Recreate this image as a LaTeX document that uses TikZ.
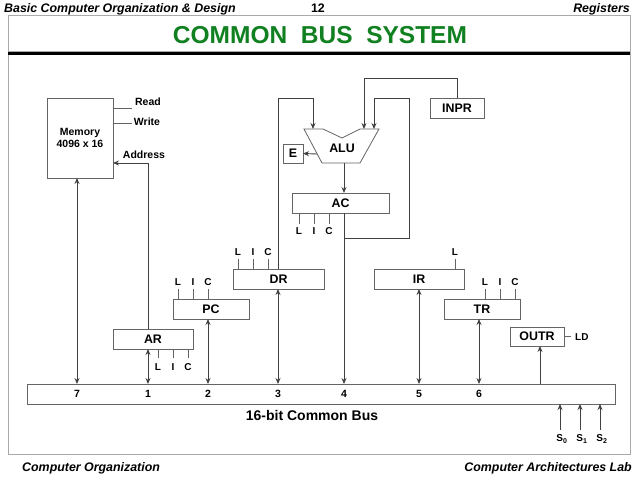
\documentclass[tikz,border=0pt]{standalone}
\usepackage{fontspec}
\setmainfont{Liberation Sans}
\usetikzlibrary{arrows.meta}
\definecolor{titlegreen}{RGB}{16,128,32}
\definecolor{linegray}{RGB}{100,100,100}
\definecolor{framegray}{RGB}{170,170,170}
\begin{document}
\begin{tikzpicture}[x=1pt,y=-1pt,
  box/.style={draw=linegray, line width=0.8pt, inner sep=0pt, outer sep=0pt, font=\fontsize{12.4}{14}\selectfont\bfseries},
  wire/.style={draw=black!75, line width=0.9pt},
  arr/.style={wire,-{Stealth[length=6pt,width=5pt]}},
  biarr/.style={wire,{Stealth[length=6pt,width=5pt]}-{Stealth[length=6pt,width=5pt]}},
  tickl/.style={draw=linegray, line width=0.8pt},
  lbl/.style={font=\fontsize{10}{12}\selectfont\bfseries, inner sep=0pt},
  mlbl/.style={font=\fontsize{10.5}{12.5}\selectfont\bfseries, inner sep=0pt},
  hdr/.style={font=\fontsize{12.4}{14}\selectfont\bfseries\itshape, inner sep=0pt},
]
\useasboundingbox (0,0) rectangle (638,478);

% frame and header
\draw[framegray, line width=1pt] (8,16) rectangle (630,455);
\draw[framegray, line width=1.2pt] (8,51.2) -- (630,51.2);
\draw[black, line width=2.2pt] (8,53.5) -- (630,53.5);
\node[hdr, anchor=base west] (h1) at (4,13) {Basic Computer Organization \& Design};
\node[font=\fontsize{12.4}{14}\selectfont\bfseries, inner sep=0pt, anchor=base] (h2) at (318,13) {12};
\node[hdr, anchor=base east] (h3) at (630,13) {Registers};
\node[font=\fontsize{24.5}{28}\selectfont\bfseries, text=titlegreen, inner sep=0pt] (title) at (320,35) {COMMON\ \ BUS\ \ SYSTEM};
\node[hdr, anchor=base west] (f1) at (22,472) {Computer Organization};
\node[hdr, anchor=base east] (f2) at (632,472) {Computer Architectures Lab};

% x positions of bus lines
\coordinate (c7) at (77,0);
\coordinate (c1) at (148,0);
\coordinate (c2) at (208,0);
\coordinate (c3) at (278,0);
\coordinate (c4) at (344,0);
\coordinate (c5) at (419,0);
\coordinate (c6) at (479,0);
\coordinate (cO) at (540,0);
\coordinate (cS0) at (560,0);
\coordinate (cS1) at (580,0);
\coordinate (cS2) at (600,0);

% boxes
\node[box, minimum width=66, minimum height=80, align=center, font=\fontsize{10.5}{12}\selectfont\bfseries] (mem) at (80,138) {Memory\\4096 x 16};
\node[box, minimum width=80, minimum height=20] (AR) at (153,339) {AR};
\node[box, minimum width=76, minimum height=20] (PC) at (211,309) {PC};
\node[box, minimum width=91, minimum height=20] (DR) at (278.5,279) {DR};
\node[box, minimum width=97, minimum height=20] (AC) at (340.5,203) {AC};
\node[box, minimum width=90, minimum height=20] (IR) at (419,279) {IR};
\node[box, minimum width=76, minimum height=20] (TR) at (482,309) {TR};
\node[box, minimum width=54, minimum height=19] (OUTR) at (537,336.5) {OUTR};
\node[box, minimum width=54, minimum height=20] (INPR) at (457,108) {INPR};
\node[box, minimum width=20, minimum height=19] (E) at (293,153.5) {E};
\node[box, minimum width=588, minimum height=20] (bus) at (321,394) {};

% ALU
\draw[linegray, line width=0.8pt] (304,129) -- (323,129) -- (342,138) -- (360,129) -- (379,129) -- (360,163) -- (322,163) -- cycle;
\node[font=\fontsize{12.4}{14}\selectfont\bfseries, inner sep=0pt] (ALU) at (342,148) {ALU};
\coordinate (aluL) at (313,129);
\coordinate (aluR1) at (364,129);
\coordinate (aluR2) at (374,129);
\coordinate (aluO) at (344,163);
\coordinate (aluE) at (317,154);
\coordinate (fb) at (409,98);

% bus numbers and label
\foreach \c/\t in {c7/7,c1/1,c2/2,c3/3,c4/4,c5/5,c6/6}
  \node[mlbl] at (\c |- bus) {\t};
\node[font=\fontsize{14}{16}\selectfont\bfseries, inner sep=0pt] (buslbl) at (312,415) {16-bit Common Bus};

% memory controls
\draw[tickl] (mem.east |- 0,108) -- ++(19,0);
\draw[tickl] (mem.east |- 0,123) -- ++(19,0);
\node[mlbl] (rd) at (148,102) {Read};
\node[mlbl] (wr) at (147,122) {Write};
\node[mlbl] (ad) at (144,155) {Address};

% bus connections
\draw[biarr] (mem.south -| c7) -- (bus.north -| c7);
\draw[biarr] (AR.south -| c1) -- (bus.north -| c1);
\draw[biarr] (PC.south -| c2) -- (bus.north -| c2);
\draw[biarr] (DR.south -| c3) -- (bus.north -| c3);
\draw[arr] (AC.south -| c4) -- (bus.north -| c4);
\draw[biarr] (IR.south -| c5) -- (bus.north -| c5);
\draw[biarr] (TR.south -| c6) -- (bus.north -| c6);
\draw[arr] (bus.north -| cO) -- (OUTR.south -| cO);
\draw[arr] (AR.north -| c1) |- (mem.east |- 0,163);

% ALU connections
\draw[arr] (DR.north -| c3) -- ++(0,-171) -| (aluL);
\draw[arr] (INPR.north) -- ++(0,-20) -| (aluR1);
\draw[arr] (c4 |- 0,238) -| (fb) -| (aluR2);
\draw[arr] (aluO) -- (AC.north -| aluO);
\draw[arr] (aluE) -- (E.east);

% select lines
\foreach \c/\s in {cS0/0,cS1/1,cS2/2}{
  \draw[arr] (\c |- 0,430) -- (bus.south -| \c);
  \node[lbl] at ([xshift=2pt]\c |- 0,439) {S\textsubscript{\s}};
}

% L I C controls
\foreach \x/\t in {158/L,173/I,188/C}{
  \draw[tickl] (\x,349) -- (\x,358);
  \node[lbl] at (\x,367) {\t};
}
\foreach \x/\t in {178/L,193/I,208/C}{
  \draw[tickl] (\x,289) -- (\x,299);
  \node[lbl] at (\x,282) {\t};
}
\foreach \x/\t in {238/L,253/I,268/C}{
  \draw[tickl] (\x,259) -- (\x,269);
  \node[lbl] at (\x,252) {\t};
}
\foreach \x/\t in {299/L,314/I,329/C}{
  \draw[tickl] (\x,213) -- (\x,224);
  \node[lbl] at (\x,231) {\t};
}
\foreach \x/\t in {485/L,500/I,515/C}{
  \draw[tickl] (\x,289) -- (\x,299);
  \node[lbl] at (\x,282) {\t};
}
\draw[tickl] (455,259) -- (455,269);
\node[lbl] at (455,252) {L};
\draw[tickl] (OUTR.east) -- ++(7,0);
\node[lbl, anchor=west] (ld) at (575,337) {LD};
\end{tikzpicture}
\end{document}
